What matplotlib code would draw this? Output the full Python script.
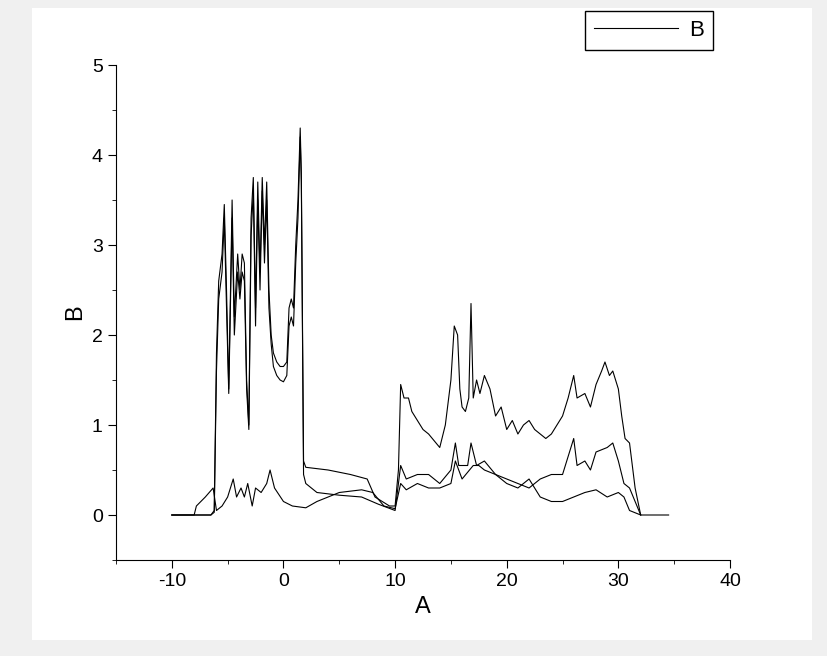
import matplotlib
matplotlib.use('Agg')
import matplotlib.pyplot as plt
from matplotlib.patches import Rectangle
from matplotlib.ticker import MultipleLocator

plt.rcParams['font.family'] = ['Liberation Sans', 'DejaVu Sans']
plt.rcParams['axes.unicode_minus'] = False

# total
x1 = [-10, -6.5, -6.2, -6, -5.8, -5.5, -5.3, -5.1, -4.9, -4.6, -4.4, -4.1, -3.9, -3.7, -3.5, -3.3, -3.1,
      -2.9, -2.7, -2.5, -2.3, -2.1, -1.9, -1.7, -1.5, -1.3, -1.1, -0.9, -0.6, -0.3, 0, 0.3, 0.5, 0.7, 0.9,
      1.1, 1.3, 1.5, 1.6, 1.8, 2, 4, 6, 7.5, 8.2, 9.5, 10, 10.3, 10.5, 10.8, 11.2, 11.5, 12, 12.5, 13, 14,
      14.5, 15, 15.3, 15.6, 15.8, 16, 16.3, 16.6, 16.8, 17, 17.3, 17.6, 18, 18.5, 19, 19.5, 20, 20.5, 21,
      21.5, 22, 22.5, 23, 23.5, 24, 24.5, 25, 25.5, 26, 26.3, 27, 27.5, 28, 28.5, 28.8, 29.2, 29.5, 30,
      30.3, 30.6, 31, 31.5, 32, 34.5]
y1 = [0, 0, 0.05, 1.8, 2.6, 2.9, 3.45, 2.5, 1.4, 3.5, 2.2, 2.9, 2.5, 2.9, 2.8, 1.5, 1.0,
      3.3, 3.75, 2.3, 3.7, 2.7, 3.75, 3.0, 3.7, 2.5, 2.0, 1.8, 1.7, 1.65, 1.65, 1.7, 2.3, 2.4, 2.3,
      3.0, 3.5, 4.3, 3.8, 0.6, 0.53, 0.5, 0.45, 0.4, 0.2, 0.1, 0.1, 0.5, 1.45, 1.3, 1.3, 1.15, 1.05, 0.95, 0.9, 0.75,
      1.0, 1.5, 2.1, 2.0, 1.4, 1.2, 1.15, 1.3, 2.35, 1.3, 1.5, 1.35, 1.55, 1.4, 1.1, 1.2, 0.95, 1.05, 0.9,
      1.0, 1.05, 0.95, 0.9, 0.85, 0.9, 1.0, 1.1, 1.3, 1.55, 1.3, 1.35, 1.2, 1.45, 1.6, 1.7, 1.55, 1.6, 1.4,
      1.1, 0.85, 0.8, 0.3, 0, 0]

# second
x2 = [-10, -6.5, -6.2, -6, -5.8, -5.5, -5.3, -5.1, -4.9, -4.6, -4.4, -4.1, -3.9, -3.7, -3.5, -3.3, -3.1,
      -2.9, -2.7, -2.5, -2.3, -2.1, -1.9, -1.7, -1.5, -1.3, -1.1, -0.9, -0.6, -0.3, 0, 0.3, 0.5, 0.7, 0.9,
      1.1, 1.3, 1.5, 1.6, 1.8, 2, 3, 5, 7, 8.5, 10, 10.5, 11, 12, 13, 14, 15, 15.4, 15.7, 16.5, 16.8, 17.3,
      18, 19, 20, 21, 22, 23, 24, 25, 26, 26.3, 27, 27.5, 28, 29, 29.5, 30, 30.5, 31, 32]
y2 = [0, 0, 0.03, 1.6, 2.4, 2.7, 3.3, 2.3, 1.35, 3.3, 2.0, 2.7, 2.4, 2.7, 2.6, 1.4, 0.95,
      3.1, 3.6, 2.1, 3.5, 2.5, 3.6, 2.8, 3.5, 2.3, 1.9, 1.65, 1.55, 1.5, 1.48, 1.55, 2.1, 2.2, 2.1,
      2.8, 3.3, 4.2, 3.7, 0.45, 0.35, 0.25, 0.22, 0.2, 0.12, 0.05, 0.55, 0.4, 0.45, 0.45, 0.35, 0.5, 0.8, 0.55,
      0.55, 0.8, 0.55, 0.6, 0.45, 0.4, 0.35, 0.3, 0.4, 0.45, 0.45, 0.85, 0.55, 0.6, 0.5, 0.7, 0.75, 0.8,
      0.6, 0.35, 0.3, 0]

# third
x3 = [-10, -8, -7.8, -7, -6.3, -6, -5.5, -5, -4.5, -4.2, -3.8, -3.5, -3.2, -2.8, -2.5, -2, -1.5, -1.2,
      -0.8, 0, 0.8, 2, 3, 5, 7, 8, 9, 10, 10.5, 11, 12, 13, 14, 15, 15.4, 16, 17, 17.5, 18, 19, 20, 21,
      22, 23, 24, 25, 26, 27, 28, 29, 30, 30.5, 31, 32]
y3 = [0, 0, 0.1, 0.2, 0.3, 0.05, 0.1, 0.2, 0.4, 0.2, 0.3, 0.2, 0.35, 0.1, 0.3, 0.25, 0.35, 0.5,
      0.3, 0.15, 0.1, 0.08, 0.15, 0.25, 0.28, 0.25, 0.1, 0.07, 0.35, 0.28, 0.35, 0.3, 0.3, 0.35, 0.6, 0.4,
      0.55, 0.55, 0.5, 0.45, 0.35, 0.3, 0.4, 0.2, 0.15, 0.15, 0.2, 0.25, 0.28, 0.2, 0.25, 0.2, 0.05, 0]

fig = plt.figure(figsize=(8.28, 6.56), dpi=100, facecolor='#f0f0f0')
fig.patches.append(Rectangle((32/828, 16/656), 780/828, 632/656, transform=fig.transFigure,
                             facecolor='white', edgecolor='none', zorder=-10))
ax = fig.add_axes([116/828, 96/656, 614/828, 495/656])
ax.set_facecolor('none')

line, = ax.plot(x1, y1, color='black', lw=0.8, label='B')
ax.plot(x2, y2, color='black', lw=0.8)
ax.plot(x3, y3, color='black', lw=0.8)

ax.set_xlim(-15, 40)
ax.set_ylim(-0.5, 5)
ax.xaxis.set_major_locator(MultipleLocator(10))
ax.xaxis.set_minor_locator(MultipleLocator(5))
ax.yaxis.set_major_locator(MultipleLocator(1))
ax.yaxis.set_minor_locator(MultipleLocator(0.5))
ax.spines['top'].set_visible(False)
ax.spines['right'].set_visible(False)
ax.tick_params(direction='out', length=6, labelsize=14)
ax.tick_params(which='minor', length=3)
ax.set_xlabel('A', fontsize=17)
ax.set_ylabel('B', fontsize=17)

fig.legend(handles=[line], loc='upper right', bbox_to_anchor=(713/828, 1 - 11/656),
           fancybox=False, edgecolor='black', framealpha=1, fontsize=16,
           handlelength=3.8, handletextpad=0.5, borderpad=0.4, borderaxespad=0)
fig.savefig('out.png', dpi=100, facecolor=fig.get_facecolor())
